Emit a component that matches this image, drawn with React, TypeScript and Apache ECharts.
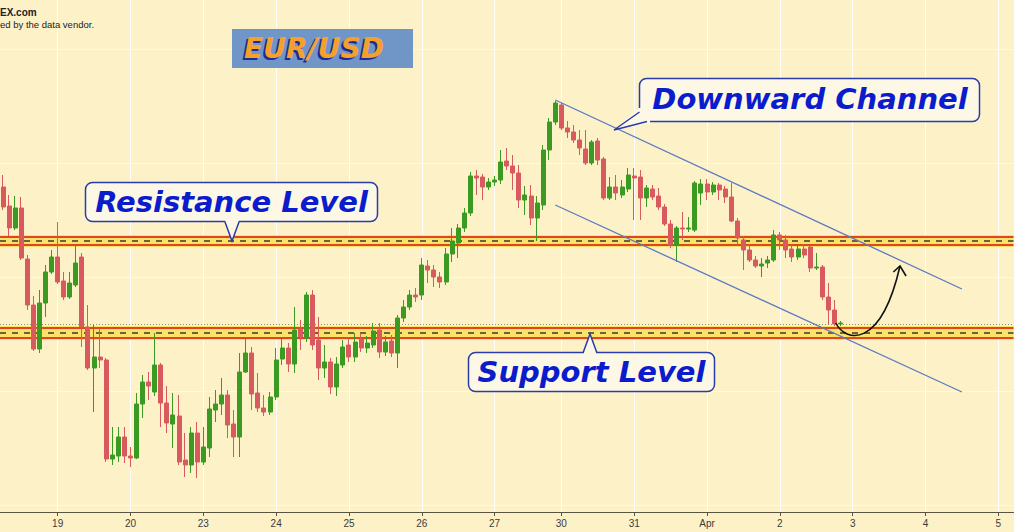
import React, { useEffect, useRef } from 'react';
import * as echarts from 'echarts';

// ---- time axis: 2-hour candles, day labels as shown on the axis ----
const dayLabels = ['18', '19', '20', '23', '24', '25', '26', '27', '30', '31', 'Apr', '2', '3', '4', '5'];
const candlesPerDay = [9, 12, 12, 12, 12, 12, 12, 11, 12, 12, 12, 12, 12, 12, 3];

// ---- EUR/USD candles (open, close, low, high) ----
const open = [
  1.1013, 1.0994, 1.0972, 1.0992, 1.0941, 1.0895, 1.0851, 1.0897, 1.0928, 1.0943,
  1.0919, 1.0903, 1.0915, 1.0943, 1.0873, 1.0832, 1.0843, 1.0840, 1.0741, 1.0744,
  1.0763, 1.0744, 1.0742, 1.0796, 1.0818, 1.0808, 1.0835, 1.0797, 1.0776, 1.0784,
  1.0740, 1.0735, 1.0767, 1.0738, 1.0752, 1.0790, 1.0796, 1.0805, 1.0776, 1.0763,
  1.0828, 1.0847, 1.0807, 1.0792, 1.0788, 1.0803, 1.0841, 1.0852, 1.0836, 1.0871,
  1.0862, 1.0905, 1.0860, 1.0832, 1.0838, 1.0813, 1.0835, 1.0855, 1.0843, 1.0861,
  1.0852, 1.0855, 1.0870, 1.0848, 1.0859, 1.0847, 1.0882, 1.0893, 1.0905, 1.0905,
  1.0934, 1.0930, 1.0923, 1.0918, 1.0946, 1.0957, 1.0972, 1.0987, 1.1024, 1.1023,
  1.1013, 1.1018, 1.1020, 1.1039, 1.1034, 1.1027, 1.1000, 1.1004, 1.0982, 1.0995,
  1.1050, 1.1078, 1.1095, 1.1072, 1.1068, 1.1060, 1.1051, 1.1037, 1.1059, 1.1041,
  1.1002, 1.1013, 1.1005, 1.1011, 1.1024, 1.1023, 1.1002, 1.1011, 1.1004, 1.0993,
  1.0976, 1.0955, 1.0972, 1.0971, 1.0970, 1.1007, 1.1016, 1.1008, 1.1015, 1.1011,
  1.1003, 1.0979, 1.0960, 1.0950, 1.0940, 1.0934, 1.0937, 1.0940, 1.0965, 1.0960,
  1.0951, 1.0943, 1.0951, 1.0953, 1.0932, 1.0933, 1.0903, 1.0890, 1.0876,
];
const close = [
  1.0993, 1.0972, 1.0992, 1.0942, 1.0895, 1.0851, 1.0897, 1.0928, 1.0943, 1.0918,
  1.0903, 1.0917, 1.0937, 1.0873, 1.0832, 1.0843, 1.0840, 1.0741, 1.0745, 1.0763,
  1.0744, 1.0742, 1.0796, 1.0818, 1.0814, 1.0835, 1.0797, 1.0777, 1.0785, 1.0738,
  1.0735, 1.0767, 1.0738, 1.0753, 1.0791, 1.0796, 1.0805, 1.0775, 1.0763, 1.0828,
  1.0847, 1.0806, 1.0792, 1.0788, 1.0803, 1.0840, 1.0852, 1.0836, 1.0870, 1.0863,
  1.0905, 1.0855, 1.0832, 1.0838, 1.0813, 1.0836, 1.0853, 1.0843, 1.0858, 1.0852,
  1.0857, 1.0869, 1.0848, 1.0858, 1.0847, 1.0882, 1.0893, 1.0905, 1.0903, 1.0935,
  1.0930, 1.0923, 1.0918, 1.0946, 1.0959, 1.0972, 1.0987, 1.1024, 1.1022, 1.1013,
  1.1018, 1.1020, 1.1038, 1.1034, 1.1027, 1.1000, 1.1005, 1.0982, 1.0997, 1.1050,
  1.1078, 1.1097, 1.1072, 1.1068, 1.1060, 1.1052, 1.1037, 1.1058, 1.1040, 1.1002,
  1.1013, 1.1007, 1.1013, 1.1025, 1.1022, 1.1002, 1.1012, 1.1003, 1.0993, 1.0976,
  1.0955, 1.0972, 1.0971, 1.0972, 1.1017, 1.1016, 1.1008, 1.1015, 1.1010, 1.1003,
  1.0979, 1.0962, 1.0950, 1.0940, 1.0934, 1.0936, 1.0940, 1.0965, 1.0960, 1.0950,
  1.0943, 1.0951, 1.0945, 1.0932, 1.0933, 1.0903, 1.0890, 1.0876, 1.0877,
];
const low = [
  1.0990, 1.0964, 1.0970, 1.0940, 1.0890, 1.0849, 1.0847, 1.0883, 1.0926, 1.0916,
  1.0900, 1.0901, 1.0913, 1.0853, 1.0830, 1.0788, 1.0832, 1.0738, 1.0735, 1.0738,
  1.0737, 1.0733, 1.0741, 1.0782, 1.0800, 1.0804, 1.0773, 1.0767, 1.0752, 1.0735,
  1.0723, 1.0727, 1.0722, 1.0735, 1.0743, 1.0778, 1.0785, 1.0762, 1.0743, 1.0743,
  1.0827, 1.0790, 1.0788, 1.0784, 1.0785, 1.0800, 1.0835, 1.0828, 1.0827, 1.0850,
  1.0858, 1.0850, 1.0820, 1.0822, 1.0806, 1.0804, 1.0832, 1.0838, 1.0838, 1.0848,
  1.0847, 1.0852, 1.0842, 1.0844, 1.0843, 1.0832, 1.0878, 1.0890, 1.0898, 1.0900,
  1.0917, 1.0913, 1.0912, 1.0915, 1.0938, 1.0942, 1.0968, 1.0984, 1.1005, 1.1000,
  1.1010, 1.1014, 1.1016, 1.1030, 1.1010, 1.0992, 1.0985, 1.0975, 1.0959, 1.0990,
  1.1040, 1.1075, 1.1070, 1.1062, 1.1057, 1.1045, 1.1035, 1.1035, 1.1035, 1.1000,
  1.1000, 1.1000, 1.1002, 1.1008, 1.0980, 1.0980, 1.0993, 1.1000, 1.0990, 1.0974,
  1.0952, 1.0938, 1.0960, 1.0968, 1.0968, 1.0995, 1.1000, 1.1005, 1.1000, 1.0997,
  1.0978, 1.0955, 1.0930, 1.0938, 1.0932, 1.0923, 1.0932, 1.0938, 1.0950, 1.0942,
  1.0938, 1.0940, 1.0942, 1.0928, 1.0930, 1.0900, 1.0876, 1.0874, 1.0874,
];
const high = [
  1.1025, 1.1005, 1.1004, 1.1003, 1.0945, 1.0904, 1.0910, 1.0935, 1.0950, 1.0978,
  1.0928, 1.0928, 1.0954, 1.0947, 1.0895, 1.0875, 1.0872, 1.0842, 1.0773, 1.0773,
  1.0773, 1.0753, 1.0807, 1.0825, 1.0828, 1.0867, 1.0837, 1.0814, 1.0807, 1.0805,
  1.0767, 1.0773, 1.0778, 1.0773, 1.0803, 1.0810, 1.0822, 1.0810, 1.0790, 1.0847,
  1.0863, 1.0853, 1.0827, 1.0805, 1.0808, 1.0852, 1.0862, 1.0857, 1.0893, 1.0880,
  1.0908, 1.0910, 1.0883, 1.0855, 1.0842, 1.0843, 1.0860, 1.0862, 1.0867, 1.0867,
  1.0864, 1.0877, 1.0877, 1.0864, 1.0865, 1.0885, 1.0900, 1.0910, 1.0912, 1.0942,
  1.0940, 1.0935, 1.0928, 1.0952, 1.0972, 1.0976, 1.0992, 1.1028, 1.1030, 1.1026,
  1.1022, 1.1024, 1.1050, 1.1052, 1.1045, 1.1035, 1.1014, 1.1015, 1.1004, 1.1055,
  1.1082, 1.1099, 1.1097, 1.1079, 1.1075, 1.1070, 1.1070, 1.1060, 1.1062, 1.1043,
  1.1023, 1.1025, 1.1020, 1.1032, 1.1032, 1.1030, 1.1015, 1.1015, 1.1012, 1.0996,
  1.0980, 1.0974, 1.0988, 1.0983, 1.1019, 1.1021, 1.1021, 1.1018, 1.1017, 1.1014,
  1.1017, 1.0982, 1.0964, 1.0956, 1.0944, 1.0942, 1.0944, 1.0970, 1.0968, 1.0965,
  1.0955, 1.0955, 1.0956, 1.0955, 1.0947, 1.0935, 1.0917, 1.0900, 1.0879,
];

// ---- drawn levels (price) ----
const resistanceBand = { top: 1.0963, center: 1.0959, bottom: 1.0955 };
const supportBand = { top: 1.0872, center: 1.0867, bottom: 1.0862 };
const lastPriceLine = 1.0876;
const horizontalGrid = [1.0695, 1.0809, 1.0923, 1.1037, 1.1151];
const yRange = { min: 1.0688, max: 1.12 };

// channel lines: [candle index, price]
const channelUpper = [[91, 1.11], [158, 1.0911]];
const channelLower = [[91, 1.0995], [158, 1.0808]];
// projected move (bezier: start, control1, control2, end) and arrow head
const arrowCurve = [[137.2, 1.0877], [138.8, 1.0858], [144.6, 1.085], [147.8, 1.0934]];
const arrowHead = [[146.7, 1.0928], [147.8, 1.0934], [148.8, 1.0924]];

const UP = '#3a9a22';
const DOWN = '#d95a5e';
const BG = '#fdf1c8';
const CALLOUT_FILL = '#fdf8e6';
const CALLOUT_BORDER = '#2a3caa';
const CALLOUT_TEXT = '#0b1ccc';
const BAND_RED = '#e2461f';
const BAND_YELLOW = '#fbe36b';

export default function App() {
  const ref = useRef<HTMLDivElement>(null);

  useEffect(() => {
    if (!ref.current) return;
    const chart = echarts.init(ref.current, null, { renderer: 'svg' });

    const categories: string[] = [];
    dayLabels.forEach((d, i) => {
      const n = candlesPerDay[i];
      const start = i === 0 ? 12 - n : 0;
      for (let j = 0; j < n; j++) {
        categories.push(`${d} ${String((start + j) * 2).padStart(2, '0')}:00`);
      }
    });
    const isDayStart = (_i: number, v: string) => v.endsWith(' 00:00');
    const dayStarts = categories.filter((c) => c.endsWith(' 00:00'));
    const candleData = open.map((o, i) => [o, close[i], low[i], high[i]]);

    const bandLine = (y: number, color: string, width: number, type: any) => ({
      yAxis: y,
      lineStyle: { color, width, type },
    });

    chart.setOption({
      animation: false,
      backgroundColor: BG,
      grid: { left: -2.44, right: 0.5, top: 0, bottom: 20 },
      xAxis: {
        type: 'category',
        data: categories,
        boundaryGap: true,
        axisLine: { lineStyle: { color: '#57553f', width: 1 } },
        axisTick: { show: true, alignWithLabel: true, length: 4, interval: isDayStart, lineStyle: { color: '#57553f' } },
        axisLabel: {
          interval: isDayStart,
          formatter: (v: string) => v.split(' ')[0],
          color: '#3b3b3b',
          fontSize: 10,
          fontFamily: 'Liberation Sans',
          margin: 6,
        },
        splitLine: { show: false },
      },
      yAxis: {
        type: 'value',
        min: yRange.min,
        max: yRange.max,
        show: false,
        splitLine: { show: false },
      },
      series: [
        {
          type: 'line',
          data: [],
          silent: true,
          z: 1,
          markArea: {
            silent: true,
            z: 0.5,
            itemStyle: { color: BAND_YELLOW, opacity: 1 },
            data: [
              [{ yAxis: resistanceBand.top + 0.0002 }, { yAxis: resistanceBand.bottom - 0.0002 }],
              [{ yAxis: supportBand.top + 0.0002 }, { yAxis: supportBand.bottom - 0.0002 }],
            ],
          },
          markLine: {
            silent: true,
            z: 0.3,
            precision: 6,
            symbol: ['none', 'none'],
            label: { show: false },
            lineStyle: { color: 'rgba(255,255,255,0.9)', width: 1, type: 'solid' },
            data: [
              ...dayStarts.map((c) => ({ xAxis: c })),
              ...horizontalGrid.map((y) => ({ yAxis: y, lineStyle: { color: 'rgba(255,255,255,0.5)', width: 1, type: 'solid' } })),
            ],
          },
        },
        {
          type: 'line',
          data: [],
          silent: true,
          z: 1,
          markLine: {
            silent: true,
            z: 1,
            precision: 6,
            symbol: ['none', 'none'],
            label: { show: false },
            data: [
              bandLine(resistanceBand.top, BAND_RED, 2, 'solid'),
              bandLine(resistanceBand.bottom, BAND_RED, 2, 'solid'),
              bandLine(resistanceBand.center, '#3d3a2c', 1.5, [6, 6]),
              bandLine(supportBand.top, BAND_RED, 2, 'solid'),
              bandLine(supportBand.bottom, BAND_RED, 2, 'solid'),
              bandLine(supportBand.center, '#3d3a2c', 1.5, [6, 6]),
              bandLine(lastPriceLine, '#8c8a70', 1, [1, 2]),
            ],
          },
        },
        {
          type: 'candlestick',
          data: candleData,
          barWidth: 4.5,
          z: 2,
          itemStyle: {
            color: UP,
            color0: DOWN,
            borderColor: UP,
            borderColor0: DOWN,
            borderWidth: 1,
          },
        },
        {
          type: 'line',
          data: channelUpper,
          symbol: 'none',
          silent: true,
          z: 3,
          lineStyle: { color: '#5b7bc2', width: 1.3 },
        },
        {
          type: 'line',
          data: channelLower,
          symbol: 'none',
          silent: true,
          z: 3,
          lineStyle: { color: '#5b7bc2', width: 1.3 },
        },
      ],
    });

    const toPx = (k: number, p: number) => {
      const a = chart.convertToPixel({ gridIndex: 0 }, [0, p]) as number[];
      const b = chart.convertToPixel({ gridIndex: 0 }, [100, p]) as number[];
      return [a[0] + ((b[0] - a[0]) * k) / 100, a[1]];
    };
    const [s, c1, c2, e] = arrowCurve.map(([k, p]) => toPx(k, p));
    const head = arrowHead.map(([k, p]) => toPx(k, p));

    const calloutFont = 'italic bold 29px "DejaVu Sans"';
    const titleFont = 'italic bold 28px "DejaVu Sans"';

    chart.setOption({
      graphic: [
        // top-left vendor note
        { type: 'text', x: 0, y: 12.5, z: 100, style: { text: 'EX.com', font: 'bold 10px "Liberation Sans"', fill: '#222', verticalAlign: 'middle' } },
        { type: 'text', x: 0, y: 24.5, z: 100, style: { text: 'ed by the data vendor.', font: '9.5px "Liberation Sans"', fill: '#222', verticalAlign: 'middle' } },
        // EUR/USD title
        { type: 'rect', z: 100, shape: { x: 232, y: 29, width: 181, height: 39 }, style: { fill: '#7096c8' } },
        { type: 'text', x: 312, y: 50, z: 101, style: { text: 'EUR/USD', font: titleFont, fill: '#1b2a9c', align: 'center', verticalAlign: 'middle' } },
        { type: 'text', x: 314, y: 48, z: 102, style: { text: 'EUR/USD', font: titleFont, fill: '#f5a02a', align: 'center', verticalAlign: 'middle' } },
        // Resistance callout
        { type: 'rect', z: 100, shape: { x: 85.5, y: 182.5, width: 292, height: 39, r: 7 }, style: { fill: CALLOUT_FILL, stroke: CALLOUT_BORDER, lineWidth: 1.5 } },
        { type: 'polygon', z: 101, shape: { points: [[225, 220], [232, 241], [239, 220]] }, style: { fill: CALLOUT_FILL } },
        { type: 'polyline', z: 102, shape: { points: [[225, 222], [232, 241], [239, 222]] }, style: { stroke: CALLOUT_BORDER, lineWidth: 1.5, fill: 'none' } },
        { type: 'text', x: 231.5, y: 202, z: 103, style: { text: 'Resistance Level', font: calloutFont, fill: CALLOUT_TEXT, align: 'center', verticalAlign: 'middle' } },
        // Support callout
        { type: 'rect', z: 100, shape: { x: 468.5, y: 352.5, width: 246, height: 39, r: 7 }, style: { fill: CALLOUT_FILL, stroke: CALLOUT_BORDER, lineWidth: 1.5 } },
        { type: 'polygon', z: 101, shape: { points: [[583, 355], [590, 334], [597, 355]] }, style: { fill: CALLOUT_FILL } },
        { type: 'polyline', z: 102, shape: { points: [[583, 353], [590, 334], [597, 353]] }, style: { stroke: CALLOUT_BORDER, lineWidth: 1.5, fill: 'none' } },
        { type: 'text', x: 591.5, y: 372, z: 103, style: { text: 'Support Level', font: calloutFont, fill: CALLOUT_TEXT, align: 'center', verticalAlign: 'middle' } },
        // Downward Channel callout
        { type: 'rect', z: 100, shape: { x: 639.5, y: 78.5, width: 340, height: 43, r: 7 }, style: { fill: CALLOUT_FILL, stroke: CALLOUT_BORDER, lineWidth: 1.5 } },
        { type: 'polygon', z: 101, shape: { points: [[638.7, 108], [614, 130], [650, 123], [650, 108]] }, style: { fill: CALLOUT_FILL } },
        { type: 'polyline', z: 102, shape: { points: [[639.5, 112], [614, 130], [647, 121.5]] }, style: { stroke: CALLOUT_BORDER, lineWidth: 1.5, fill: 'none' } },
        { type: 'text', x: 810, y: 99, z: 103, style: { text: 'Downward Channel', font: calloutFont, fill: CALLOUT_TEXT, align: 'center', verticalAlign: 'middle' } },
        // projected bounce arrow
        {
          type: 'bezierCurve',
          z: 104,
          shape: { x1: s[0], y1: s[1], cpx1: c1[0], cpy1: c1[1], cpx2: c2[0], cpy2: c2[1], x2: e[0], y2: e[1] },
          style: { stroke: '#111', lineWidth: 1.6, fill: 'none' },
        },
        { type: 'polyline', z: 104, shape: { points: head }, style: { stroke: '#111', lineWidth: 1.6, fill: 'none' } },
      ],
    });

    return () => chart.dispose();
  }, []);

  return <div ref={ref} style={{ position: 'fixed', left: 0, top: 0, width: 1014, height: 532 }} />;
}
